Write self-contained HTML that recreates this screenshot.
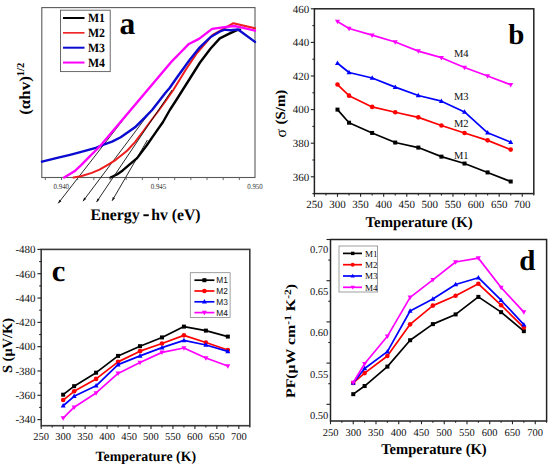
<!DOCTYPE html>
<html><head><meta charset="utf-8"><style>
html,body{margin:0;padding:0;background:#fff;}
body{width:550px;height:467px;overflow:hidden;font-family:"Liberation Serif", serif;}
svg{display:block;text-rendering:geometricPrecision;}
</style></head><body>
<svg width="550" height="467" viewBox="0 0 550 467">
<rect width="550" height="467" fill="#fff"/>
<rect x="41.8" y="7.6" width="213.2" height="169.9" fill="none" stroke="#5a5a5a" stroke-width="1.1"/>
<line x1="138.50" y1="100.00" x2="58.20" y2="203.30" stroke="#111" stroke-width="0.9" />
<polygon points="58.20,203.30 59.38,199.66 61.44,201.26" fill="#111"/>
<line x1="150.00" y1="112.00" x2="83.00" y2="201.20" stroke="#111" stroke-width="0.9" />
<polygon points="83.00,201.20 84.12,197.54 86.20,199.10" fill="#111"/>
<line x1="147.40" y1="140.00" x2="112.10" y2="200.80" stroke="#111" stroke-width="0.9" />
<polygon points="112.10,200.80 112.78,197.03 115.03,198.34" fill="#111"/>
<polyline points="110.50,177.50 116.90,174.50 122.40,170.70 130.00,164.20 137.10,158.10 146.80,145.30 156.40,131.40 163.00,122.00 169.80,110.00 176.00,100.50 182.30,90.50 188.00,81.50 200.00,62.50 210.60,48.50 219.80,38.40 229.30,33.60 237.00,30.10 240.00,29.80" fill="none" stroke="#000000" stroke-width="2.4" stroke-linejoin="round" stroke-linecap="round" />
<polyline points="73.50,177.50 80.90,176.20 91.80,172.90 99.50,169.60 108.20,164.70 115.80,159.80 122.40,154.40 127.30,150.50 135.00,142.10 144.10,130.00 151.50,120.00 159.10,110.00 166.00,100.50 173.30,90.00 185.60,70.00 197.00,53.00 212.70,34.80 223.40,28.90 233.40,23.20 255.00,28.30" fill="none" stroke="#ee1c1c" stroke-width="2.0" stroke-linejoin="round" stroke-linecap="round" />
<polyline points="42.00,161.70 59.30,157.40 70.00,154.80 78.50,152.60 95.90,147.80 103.60,144.60 112.10,141.60 120.70,137.30 129.30,131.30 135.00,127.30 145.00,117.40 152.10,110.00 159.30,100.80 165.50,92.80 169.60,88.00 177.10,77.30 189.60,60.00 199.00,48.20 210.60,37.00 220.00,31.50 224.60,29.60 230.50,30.20 238.10,29.50 255.00,41.90" fill="none" stroke="#0a0ad0" stroke-width="2.4" stroke-linejoin="round" stroke-linecap="round" />
<polyline points="64.10,177.50 70.00,174.00 74.40,171.30 80.90,165.30 87.50,158.70 96.20,150.00 100.00,146.20 171.00,62.20 180.00,53.00 188.40,44.30 199.00,38.90 212.10,28.90 224.60,27.10 234.00,26.00 239.90,27.10 255.00,30.70" fill="none" stroke="#ff00ff" stroke-width="2.4" stroke-linejoin="round" stroke-linecap="round" />
<line x1="172.00" y1="90.00" x2="96.50" y2="202.10" stroke="#111" stroke-width="0.9" />
<polygon points="96.50,202.10 97.43,198.39 99.59,199.84" fill="#111"/>
<line x1="45.33" y1="177.50" x2="45.33" y2="180.10" stroke="#5a5a5a" stroke-width="0.9" />
<line x1="61.50" y1="177.50" x2="61.50" y2="180.10" stroke="#5a5a5a" stroke-width="0.9" />
<line x1="77.67" y1="177.50" x2="77.67" y2="180.10" stroke="#5a5a5a" stroke-width="0.9" />
<line x1="93.84" y1="177.50" x2="93.84" y2="180.10" stroke="#5a5a5a" stroke-width="0.9" />
<line x1="110.01" y1="177.50" x2="110.01" y2="180.10" stroke="#5a5a5a" stroke-width="0.9" />
<line x1="126.18" y1="177.50" x2="126.18" y2="180.10" stroke="#5a5a5a" stroke-width="0.9" />
<line x1="142.35" y1="177.50" x2="142.35" y2="180.10" stroke="#5a5a5a" stroke-width="0.9" />
<line x1="158.52" y1="177.50" x2="158.52" y2="180.10" stroke="#5a5a5a" stroke-width="0.9" />
<line x1="174.69" y1="177.50" x2="174.69" y2="180.10" stroke="#5a5a5a" stroke-width="0.9" />
<line x1="190.86" y1="177.50" x2="190.86" y2="180.10" stroke="#5a5a5a" stroke-width="0.9" />
<line x1="207.03" y1="177.50" x2="207.03" y2="180.10" stroke="#5a5a5a" stroke-width="0.9" />
<line x1="223.20" y1="177.50" x2="223.20" y2="180.10" stroke="#5a5a5a" stroke-width="0.9" />
<line x1="239.37" y1="177.50" x2="239.37" y2="180.10" stroke="#5a5a5a" stroke-width="0.9" />
<text x="61.30" y="188.60" font-family='"Liberation Serif", serif' font-size="7.8" font-weight="normal" text-anchor="middle" fill="#3a3a3a" textLength="15.5" lengthAdjust="spacingAndGlyphs">0.940</text>
<text x="158.50" y="188.60" font-family='"Liberation Serif", serif' font-size="7.8" font-weight="normal" text-anchor="middle" fill="#3a3a3a" textLength="15.5" lengthAdjust="spacingAndGlyphs">0.945</text>
<text x="255.00" y="188.60" font-family='"Liberation Serif", serif' font-size="7.8" font-weight="normal" text-anchor="middle" fill="#3a3a3a" textLength="15.5" lengthAdjust="spacingAndGlyphs">0.950</text>
<rect x="60.5" y="10.2" width="49.7" height="61.4" fill="#fff" stroke="#5a5a5a" stroke-width="0.9"/>
<line x1="63.00" y1="18.00" x2="84.50" y2="18.00" stroke="#000000" stroke-width="2.0" />
<text x="88.00" y="22.10" font-family='"Liberation Serif", serif' font-size="12.6" font-weight="bold" text-anchor="start" fill="#000" textLength="17" lengthAdjust="spacingAndGlyphs">M1</text>
<line x1="63.00" y1="32.85" x2="84.50" y2="32.85" stroke="#ee1c1c" stroke-width="1.6" />
<text x="88.00" y="36.95" font-family='"Liberation Serif", serif' font-size="12.6" font-weight="bold" text-anchor="start" fill="#000" textLength="17" lengthAdjust="spacingAndGlyphs">M2</text>
<line x1="63.00" y1="47.70" x2="84.50" y2="47.70" stroke="#0a0ad0" stroke-width="2.0" />
<text x="88.00" y="51.80" font-family='"Liberation Serif", serif' font-size="12.6" font-weight="bold" text-anchor="start" fill="#000" textLength="17" lengthAdjust="spacingAndGlyphs">M3</text>
<line x1="63.00" y1="62.55" x2="84.50" y2="62.55" stroke="#ff00ff" stroke-width="2.0" />
<text x="88.00" y="66.65" font-family='"Liberation Serif", serif' font-size="12.6" font-weight="bold" text-anchor="start" fill="#000" textLength="17" lengthAdjust="spacingAndGlyphs">M4</text>
<text x="119.40" y="34.00" font-family='"Liberation Serif", serif' font-size="31.5" font-weight="bold" text-anchor="start" fill="#000" >a</text>
<text x="90.40" y="220.40" font-family='"Liberation Serif", serif' font-size="16.2" font-weight="bold" text-anchor="start" fill="#000" textLength="49.2" lengthAdjust="spacingAndGlyphs">Energy</text>
<rect x="143.4" y="214.3" width="5.4" height="1.9" fill="#000"/>
<text x="151.20" y="220.40" font-family='"Liberation Serif", serif' font-size="16.2" font-weight="bold" text-anchor="start" fill="#000" textLength="49.4" lengthAdjust="spacingAndGlyphs">hv (eV)</text>
<text transform="translate(30.0,114.8) rotate(-90)" font-family='"Liberation Serif", serif' font-size="15.6" font-weight="bold"><tspan textLength="38.6" lengthAdjust="spacingAndGlyphs">(αhv)</tspan><tspan font-size="10.5" dy="-5.8" textLength="13.6" lengthAdjust="spacingAndGlyphs">1/2</tspan></text>
<rect x="314.4" y="8.8" width="219.40" height="184.80" fill="none" stroke="#222" stroke-width="1.5"/>
<line x1="314.40" y1="193.60" x2="314.40" y2="196.80" stroke="#222" stroke-width="1.1" />
<text x="314.40" y="208.00" font-family='"Liberation Serif", serif' font-size="11" font-weight="normal" text-anchor="middle" fill="#111" >250</text>
<line x1="325.95" y1="193.60" x2="325.95" y2="195.40" stroke="#222" stroke-width="1.1" />
<line x1="337.49" y1="193.60" x2="337.49" y2="196.80" stroke="#222" stroke-width="1.1" />
<text x="337.49" y="208.00" font-family='"Liberation Serif", serif' font-size="11" font-weight="normal" text-anchor="middle" fill="#111" >300</text>
<line x1="349.04" y1="193.60" x2="349.04" y2="195.40" stroke="#222" stroke-width="1.1" />
<line x1="360.59" y1="193.60" x2="360.59" y2="196.80" stroke="#222" stroke-width="1.1" />
<text x="360.59" y="208.00" font-family='"Liberation Serif", serif' font-size="11" font-weight="normal" text-anchor="middle" fill="#111" >350</text>
<line x1="372.14" y1="193.60" x2="372.14" y2="195.40" stroke="#222" stroke-width="1.1" />
<line x1="383.68" y1="193.60" x2="383.68" y2="196.80" stroke="#222" stroke-width="1.1" />
<text x="383.68" y="208.00" font-family='"Liberation Serif", serif' font-size="11" font-weight="normal" text-anchor="middle" fill="#111" >400</text>
<line x1="395.23" y1="193.60" x2="395.23" y2="195.40" stroke="#222" stroke-width="1.1" />
<line x1="406.78" y1="193.60" x2="406.78" y2="196.80" stroke="#222" stroke-width="1.1" />
<text x="406.78" y="208.00" font-family='"Liberation Serif", serif' font-size="11" font-weight="normal" text-anchor="middle" fill="#111" >450</text>
<line x1="418.33" y1="193.60" x2="418.33" y2="195.40" stroke="#222" stroke-width="1.1" />
<line x1="429.87" y1="193.60" x2="429.87" y2="196.80" stroke="#222" stroke-width="1.1" />
<text x="429.87" y="208.00" font-family='"Liberation Serif", serif' font-size="11" font-weight="normal" text-anchor="middle" fill="#111" >500</text>
<line x1="441.42" y1="193.60" x2="441.42" y2="195.40" stroke="#222" stroke-width="1.1" />
<line x1="452.97" y1="193.60" x2="452.97" y2="196.80" stroke="#222" stroke-width="1.1" />
<text x="452.97" y="208.00" font-family='"Liberation Serif", serif' font-size="11" font-weight="normal" text-anchor="middle" fill="#111" >550</text>
<line x1="464.52" y1="193.60" x2="464.52" y2="195.40" stroke="#222" stroke-width="1.1" />
<line x1="476.06" y1="193.60" x2="476.06" y2="196.80" stroke="#222" stroke-width="1.1" />
<text x="476.06" y="208.00" font-family='"Liberation Serif", serif' font-size="11" font-weight="normal" text-anchor="middle" fill="#111" >600</text>
<line x1="487.61" y1="193.60" x2="487.61" y2="195.40" stroke="#222" stroke-width="1.1" />
<line x1="499.16" y1="193.60" x2="499.16" y2="196.80" stroke="#222" stroke-width="1.1" />
<text x="499.16" y="208.00" font-family='"Liberation Serif", serif' font-size="11" font-weight="normal" text-anchor="middle" fill="#111" >650</text>
<line x1="510.71" y1="193.60" x2="510.71" y2="195.40" stroke="#222" stroke-width="1.1" />
<line x1="522.25" y1="193.60" x2="522.25" y2="196.80" stroke="#222" stroke-width="1.1" />
<text x="522.25" y="208.00" font-family='"Liberation Serif", serif' font-size="11" font-weight="normal" text-anchor="middle" fill="#111" >700</text>
<line x1="533.80" y1="193.60" x2="533.80" y2="195.40" stroke="#222" stroke-width="1.1" />
<line x1="312.40" y1="193.60" x2="314.40" y2="193.60" stroke="#222" stroke-width="1.1" />
<line x1="310.80" y1="176.80" x2="314.40" y2="176.80" stroke="#222" stroke-width="1.1" />
<text x="309.30" y="180.60" font-family='"Liberation Serif", serif' font-size="11" font-weight="normal" text-anchor="end" fill="#111" >360</text>
<line x1="312.40" y1="160.00" x2="314.40" y2="160.00" stroke="#222" stroke-width="1.1" />
<line x1="310.80" y1="143.20" x2="314.40" y2="143.20" stroke="#222" stroke-width="1.1" />
<text x="309.30" y="147.00" font-family='"Liberation Serif", serif' font-size="11" font-weight="normal" text-anchor="end" fill="#111" >380</text>
<line x1="312.40" y1="126.40" x2="314.40" y2="126.40" stroke="#222" stroke-width="1.1" />
<line x1="310.80" y1="109.60" x2="314.40" y2="109.60" stroke="#222" stroke-width="1.1" />
<text x="309.30" y="113.40" font-family='"Liberation Serif", serif' font-size="11" font-weight="normal" text-anchor="end" fill="#111" >400</text>
<line x1="312.40" y1="92.80" x2="314.40" y2="92.80" stroke="#222" stroke-width="1.1" />
<line x1="310.80" y1="76.00" x2="314.40" y2="76.00" stroke="#222" stroke-width="1.1" />
<text x="309.30" y="79.80" font-family='"Liberation Serif", serif' font-size="11" font-weight="normal" text-anchor="end" fill="#111" >420</text>
<line x1="312.40" y1="59.20" x2="314.40" y2="59.20" stroke="#222" stroke-width="1.1" />
<line x1="310.80" y1="42.40" x2="314.40" y2="42.40" stroke="#222" stroke-width="1.1" />
<text x="309.30" y="46.20" font-family='"Liberation Serif", serif' font-size="11" font-weight="normal" text-anchor="end" fill="#111" >440</text>
<line x1="312.40" y1="25.60" x2="314.40" y2="25.60" stroke="#222" stroke-width="1.1" />
<line x1="310.80" y1="8.80" x2="314.40" y2="8.80" stroke="#222" stroke-width="1.1" />
<text x="309.30" y="12.60" font-family='"Liberation Serif", serif' font-size="11" font-weight="normal" text-anchor="end" fill="#111" >460</text>
<polyline points="337.49,109.60 349.04,122.70 372.14,132.95 395.23,142.53 418.33,147.57 441.42,156.64 464.52,163.53 487.61,172.43 510.71,181.50" fill="none" stroke="#000000" stroke-width="1.7" stroke-linejoin="round" stroke-linecap="round" />
<rect x="335.49" y="107.60" width="4.00" height="4.00" fill="#000000"/>
<rect x="347.04" y="120.70" width="4.00" height="4.00" fill="#000000"/>
<rect x="370.14" y="130.95" width="4.00" height="4.00" fill="#000000"/>
<rect x="393.23" y="140.53" width="4.00" height="4.00" fill="#000000"/>
<rect x="416.33" y="145.57" width="4.00" height="4.00" fill="#000000"/>
<rect x="439.42" y="154.64" width="4.00" height="4.00" fill="#000000"/>
<rect x="462.52" y="161.53" width="4.00" height="4.00" fill="#000000"/>
<rect x="485.61" y="170.43" width="4.00" height="4.00" fill="#000000"/>
<rect x="508.71" y="179.50" width="4.00" height="4.00" fill="#000000"/>
<polyline points="337.49,84.57 349.04,95.66 372.14,106.91 395.23,112.29 418.33,117.33 441.42,125.56 464.52,132.95 487.61,140.34 510.71,149.58" fill="none" stroke="#ff0000" stroke-width="1.7" stroke-linejoin="round" stroke-linecap="round" />
<circle cx="337.49" cy="84.57" r="2.30" fill="#ff0000"/>
<circle cx="349.04" cy="95.66" r="2.30" fill="#ff0000"/>
<circle cx="372.14" cy="106.91" r="2.30" fill="#ff0000"/>
<circle cx="395.23" cy="112.29" r="2.30" fill="#ff0000"/>
<circle cx="418.33" cy="117.33" r="2.30" fill="#ff0000"/>
<circle cx="441.42" cy="125.56" r="2.30" fill="#ff0000"/>
<circle cx="464.52" cy="132.95" r="2.30" fill="#ff0000"/>
<circle cx="487.61" cy="140.34" r="2.30" fill="#ff0000"/>
<circle cx="510.71" cy="149.58" r="2.30" fill="#ff0000"/>
<polyline points="337.49,63.23 349.04,72.47 372.14,78.02 395.23,87.09 418.33,95.49 441.42,101.20 464.52,111.95 487.61,132.78 510.71,142.19" fill="none" stroke="#0000ff" stroke-width="1.7" stroke-linejoin="round" stroke-linecap="round" />
<polygon points="337.49,60.53 334.99,65.03 339.99,65.03" fill="#0000ff"/>
<polygon points="349.04,69.77 346.54,74.27 351.54,74.27" fill="#0000ff"/>
<polygon points="372.14,75.32 369.64,79.82 374.64,79.82" fill="#0000ff"/>
<polygon points="395.23,84.39 392.73,88.89 397.73,88.89" fill="#0000ff"/>
<polygon points="418.33,92.79 415.83,97.29 420.83,97.29" fill="#0000ff"/>
<polygon points="441.42,98.50 438.92,103.00 443.92,103.00" fill="#0000ff"/>
<polygon points="464.52,109.25 462.02,113.75 467.02,113.75" fill="#0000ff"/>
<polygon points="487.61,130.08 485.11,134.58 490.11,134.58" fill="#0000ff"/>
<polygon points="510.71,139.49 508.21,143.99 513.21,143.99" fill="#0000ff"/>
<polyline points="337.49,21.57 349.04,28.46 372.14,35.18 395.23,42.06 418.33,51.14 441.42,57.69 464.52,67.43 487.61,76.00 510.71,84.74" fill="none" stroke="#ff00ff" stroke-width="1.7" stroke-linejoin="round" stroke-linecap="round" />
<polygon points="337.49,24.27 334.99,19.77 339.99,19.77" fill="#ff00ff"/>
<polygon points="349.04,31.16 346.54,26.66 351.54,26.66" fill="#ff00ff"/>
<polygon points="372.14,37.88 369.64,33.38 374.64,33.38" fill="#ff00ff"/>
<polygon points="395.23,44.76 392.73,40.26 397.73,40.26" fill="#ff00ff"/>
<polygon points="418.33,53.84 415.83,49.34 420.83,49.34" fill="#ff00ff"/>
<polygon points="441.42,60.39 438.92,55.89 443.92,55.89" fill="#ff00ff"/>
<polygon points="464.52,70.13 462.02,65.63 467.02,65.63" fill="#ff00ff"/>
<polygon points="487.61,78.70 485.11,74.20 490.11,74.20" fill="#ff00ff"/>
<polygon points="510.71,87.44 508.21,82.94 513.21,82.94" fill="#ff00ff"/>
<text x="454.00" y="57.20" font-family='"Liberation Serif", serif' font-size="10.8" font-weight="normal" text-anchor="start" fill="#111" textLength="14.6" lengthAdjust="spacingAndGlyphs">M4</text>
<text x="454.00" y="100.10" font-family='"Liberation Serif", serif' font-size="10.8" font-weight="normal" text-anchor="start" fill="#111" textLength="14.6" lengthAdjust="spacingAndGlyphs">M3</text>
<text x="454.00" y="126.90" font-family='"Liberation Serif", serif' font-size="10.8" font-weight="normal" text-anchor="start" fill="#111" textLength="14.6" lengthAdjust="spacingAndGlyphs">M2</text>
<text x="454.00" y="158.50" font-family='"Liberation Serif", serif' font-size="10.8" font-weight="normal" text-anchor="start" fill="#111" textLength="14.6" lengthAdjust="spacingAndGlyphs">M1</text>
<text x="508.30" y="43.60" font-family='"Liberation Serif", serif' font-size="29" font-weight="bold" text-anchor="start" fill="#000" >b</text>
<text x="365.60" y="227.40" font-family='"Liberation Serif", serif' font-size="14.8" font-weight="bold" text-anchor="start" fill="#000" textLength="107" lengthAdjust="spacingAndGlyphs">Temperature (K)</text>
<text transform="translate(285.6,137.4) rotate(-90)" font-family='"Liberation Serif", serif' font-size="15.6">σ</text>
<text transform="translate(284.6,124.4) rotate(-90)" font-family='"Liberation Serif", serif' font-size="14" font-weight="bold" textLength="34.6" lengthAdjust="spacingAndGlyphs">(S/m)</text>
<rect x="41.2" y="249.4" width="208.60" height="176.30" fill="none" stroke="#3a3a3a" stroke-width="1.6"/>
<line x1="41.20" y1="425.70" x2="41.20" y2="428.90" stroke="#222" stroke-width="1.1" />
<text x="41.20" y="439.60" font-family='"Liberation Serif", serif' font-size="10.5" font-weight="normal" text-anchor="middle" fill="#111" >250</text>
<line x1="52.18" y1="425.70" x2="52.18" y2="427.50" stroke="#222" stroke-width="1.1" />
<line x1="63.16" y1="425.70" x2="63.16" y2="428.90" stroke="#222" stroke-width="1.1" />
<text x="63.16" y="439.60" font-family='"Liberation Serif", serif' font-size="10.5" font-weight="normal" text-anchor="middle" fill="#111" >300</text>
<line x1="74.14" y1="425.70" x2="74.14" y2="427.50" stroke="#222" stroke-width="1.1" />
<line x1="85.12" y1="425.70" x2="85.12" y2="428.90" stroke="#222" stroke-width="1.1" />
<text x="85.12" y="439.60" font-family='"Liberation Serif", serif' font-size="10.5" font-weight="normal" text-anchor="middle" fill="#111" >350</text>
<line x1="96.09" y1="425.70" x2="96.09" y2="427.50" stroke="#222" stroke-width="1.1" />
<line x1="107.07" y1="425.70" x2="107.07" y2="428.90" stroke="#222" stroke-width="1.1" />
<text x="107.07" y="439.60" font-family='"Liberation Serif", serif' font-size="10.5" font-weight="normal" text-anchor="middle" fill="#111" >400</text>
<line x1="118.05" y1="425.70" x2="118.05" y2="427.50" stroke="#222" stroke-width="1.1" />
<line x1="129.03" y1="425.70" x2="129.03" y2="428.90" stroke="#222" stroke-width="1.1" />
<text x="129.03" y="439.60" font-family='"Liberation Serif", serif' font-size="10.5" font-weight="normal" text-anchor="middle" fill="#111" >450</text>
<line x1="140.01" y1="425.70" x2="140.01" y2="427.50" stroke="#222" stroke-width="1.1" />
<line x1="150.99" y1="425.70" x2="150.99" y2="428.90" stroke="#222" stroke-width="1.1" />
<text x="150.99" y="439.60" font-family='"Liberation Serif", serif' font-size="10.5" font-weight="normal" text-anchor="middle" fill="#111" >500</text>
<line x1="161.97" y1="425.70" x2="161.97" y2="427.50" stroke="#222" stroke-width="1.1" />
<line x1="172.95" y1="425.70" x2="172.95" y2="428.90" stroke="#222" stroke-width="1.1" />
<text x="172.95" y="439.60" font-family='"Liberation Serif", serif' font-size="10.5" font-weight="normal" text-anchor="middle" fill="#111" >550</text>
<line x1="183.93" y1="425.70" x2="183.93" y2="427.50" stroke="#222" stroke-width="1.1" />
<line x1="194.91" y1="425.70" x2="194.91" y2="428.90" stroke="#222" stroke-width="1.1" />
<text x="194.91" y="439.60" font-family='"Liberation Serif", serif' font-size="10.5" font-weight="normal" text-anchor="middle" fill="#111" >600</text>
<line x1="205.88" y1="425.70" x2="205.88" y2="427.50" stroke="#222" stroke-width="1.1" />
<line x1="216.86" y1="425.70" x2="216.86" y2="428.90" stroke="#222" stroke-width="1.1" />
<text x="216.86" y="439.60" font-family='"Liberation Serif", serif' font-size="10.5" font-weight="normal" text-anchor="middle" fill="#111" >650</text>
<line x1="227.84" y1="425.70" x2="227.84" y2="427.50" stroke="#222" stroke-width="1.1" />
<line x1="238.82" y1="425.70" x2="238.82" y2="428.90" stroke="#222" stroke-width="1.1" />
<text x="238.82" y="439.60" font-family='"Liberation Serif", serif' font-size="10.5" font-weight="normal" text-anchor="middle" fill="#111" >700</text>
<line x1="249.80" y1="425.70" x2="249.80" y2="427.50" stroke="#222" stroke-width="1.1" />
<line x1="37.40" y1="419.62" x2="41.20" y2="419.62" stroke="#222" stroke-width="1.1" />
<text x="35.60" y="423.42" font-family='"Liberation Serif", serif' font-size="11" font-weight="normal" text-anchor="end" fill="#111" >-340</text>
<line x1="39.20" y1="407.46" x2="41.20" y2="407.46" stroke="#222" stroke-width="1.1" />
<line x1="37.40" y1="395.30" x2="41.20" y2="395.30" stroke="#222" stroke-width="1.1" />
<text x="35.60" y="399.10" font-family='"Liberation Serif", serif' font-size="11" font-weight="normal" text-anchor="end" fill="#111" >-360</text>
<line x1="39.20" y1="383.14" x2="41.20" y2="383.14" stroke="#222" stroke-width="1.1" />
<line x1="37.40" y1="370.99" x2="41.20" y2="370.99" stroke="#222" stroke-width="1.1" />
<text x="35.60" y="374.79" font-family='"Liberation Serif", serif' font-size="11" font-weight="normal" text-anchor="end" fill="#111" >-380</text>
<line x1="39.20" y1="358.83" x2="41.20" y2="358.83" stroke="#222" stroke-width="1.1" />
<line x1="37.40" y1="346.67" x2="41.20" y2="346.67" stroke="#222" stroke-width="1.1" />
<text x="35.60" y="350.47" font-family='"Liberation Serif", serif' font-size="11" font-weight="normal" text-anchor="end" fill="#111" >-400</text>
<line x1="39.20" y1="334.51" x2="41.20" y2="334.51" stroke="#222" stroke-width="1.1" />
<line x1="37.40" y1="322.35" x2="41.20" y2="322.35" stroke="#222" stroke-width="1.1" />
<text x="35.60" y="326.15" font-family='"Liberation Serif", serif' font-size="11" font-weight="normal" text-anchor="end" fill="#111" >-420</text>
<line x1="39.20" y1="310.19" x2="41.20" y2="310.19" stroke="#222" stroke-width="1.1" />
<line x1="37.40" y1="298.03" x2="41.20" y2="298.03" stroke="#222" stroke-width="1.1" />
<text x="35.60" y="301.83" font-family='"Liberation Serif", serif' font-size="11" font-weight="normal" text-anchor="end" fill="#111" >-440</text>
<line x1="39.20" y1="285.88" x2="41.20" y2="285.88" stroke="#222" stroke-width="1.1" />
<line x1="37.40" y1="273.72" x2="41.20" y2="273.72" stroke="#222" stroke-width="1.1" />
<text x="35.60" y="277.52" font-family='"Liberation Serif", serif' font-size="11" font-weight="normal" text-anchor="end" fill="#111" >-460</text>
<line x1="39.20" y1="261.56" x2="41.20" y2="261.56" stroke="#222" stroke-width="1.1" />
<line x1="37.40" y1="249.40" x2="41.20" y2="249.40" stroke="#222" stroke-width="1.1" />
<text x="35.60" y="253.20" font-family='"Liberation Serif", serif' font-size="11" font-weight="normal" text-anchor="end" fill="#111" >-480</text>
<polyline points="63.16,394.70 74.14,386.18 96.09,372.69 118.05,355.91 140.01,346.18 161.97,337.43 183.93,326.61 205.88,330.62 227.84,336.58" fill="none" stroke="#000000" stroke-width="1.7" stroke-linejoin="round" stroke-linecap="round" />
<rect x="61.16" y="392.70" width="4.00" height="4.00" fill="#000000"/>
<rect x="72.14" y="384.18" width="4.00" height="4.00" fill="#000000"/>
<rect x="94.09" y="370.69" width="4.00" height="4.00" fill="#000000"/>
<rect x="116.05" y="353.91" width="4.00" height="4.00" fill="#000000"/>
<rect x="138.01" y="344.18" width="4.00" height="4.00" fill="#000000"/>
<rect x="159.97" y="335.43" width="4.00" height="4.00" fill="#000000"/>
<rect x="181.93" y="324.61" width="4.00" height="4.00" fill="#000000"/>
<rect x="203.88" y="328.62" width="4.00" height="4.00" fill="#000000"/>
<rect x="225.84" y="334.58" width="4.00" height="4.00" fill="#000000"/>
<polyline points="63.16,400.05 74.14,391.29 96.09,378.89 118.05,361.87 140.01,351.17 161.97,343.51 183.93,335.36 205.88,342.54 227.84,349.95" fill="none" stroke="#ff0000" stroke-width="1.7" stroke-linejoin="round" stroke-linecap="round" />
<circle cx="63.16" cy="400.05" r="2.30" fill="#ff0000"/>
<circle cx="74.14" cy="391.29" r="2.30" fill="#ff0000"/>
<circle cx="96.09" cy="378.89" r="2.30" fill="#ff0000"/>
<circle cx="118.05" cy="361.87" r="2.30" fill="#ff0000"/>
<circle cx="140.01" cy="351.17" r="2.30" fill="#ff0000"/>
<circle cx="161.97" cy="343.51" r="2.30" fill="#ff0000"/>
<circle cx="183.93" cy="335.36" r="2.30" fill="#ff0000"/>
<circle cx="205.88" cy="342.54" r="2.30" fill="#ff0000"/>
<circle cx="227.84" cy="349.95" r="2.30" fill="#ff0000"/>
<polyline points="63.16,405.76 74.14,396.28 96.09,385.82 118.05,364.66 140.01,355.91 161.97,347.64 183.93,340.35 205.88,344.97 227.84,351.41" fill="none" stroke="#0000ff" stroke-width="1.7" stroke-linejoin="round" stroke-linecap="round" />
<polygon points="63.16,403.06 60.66,407.56 65.66,407.56" fill="#0000ff"/>
<polygon points="74.14,393.58 71.64,398.08 76.64,398.08" fill="#0000ff"/>
<polygon points="96.09,383.12 93.59,387.62 98.59,387.62" fill="#0000ff"/>
<polygon points="118.05,361.96 115.55,366.46 120.55,366.46" fill="#0000ff"/>
<polygon points="140.01,353.21 137.51,357.71 142.51,357.71" fill="#0000ff"/>
<polygon points="161.97,344.94 159.47,349.44 164.47,349.44" fill="#0000ff"/>
<polygon points="183.93,337.65 181.43,342.15 186.43,342.15" fill="#0000ff"/>
<polygon points="205.88,342.27 203.38,346.77 208.38,346.77" fill="#0000ff"/>
<polygon points="227.84,348.71 225.34,353.21 230.34,353.21" fill="#0000ff"/>
<polyline points="63.16,418.16 74.14,407.22 96.09,392.99 118.05,373.42 140.01,362.48 161.97,352.38 183.93,348.01 205.88,357.98 227.84,366.00" fill="none" stroke="#ff00ff" stroke-width="1.7" stroke-linejoin="round" stroke-linecap="round" />
<polygon points="63.16,420.86 60.66,416.36 65.66,416.36" fill="#ff00ff"/>
<polygon points="74.14,409.92 71.64,405.42 76.64,405.42" fill="#ff00ff"/>
<polygon points="96.09,395.69 93.59,391.19 98.59,391.19" fill="#ff00ff"/>
<polygon points="118.05,376.12 115.55,371.62 120.55,371.62" fill="#ff00ff"/>
<polygon points="140.01,365.18 137.51,360.68 142.51,360.68" fill="#ff00ff"/>
<polygon points="161.97,355.08 159.47,350.58 164.47,350.58" fill="#ff00ff"/>
<polygon points="183.93,350.71 181.43,346.21 186.43,346.21" fill="#ff00ff"/>
<polygon points="205.88,360.68 203.38,356.18 208.38,356.18" fill="#ff00ff"/>
<polygon points="227.84,368.70 225.34,364.20 230.34,364.20" fill="#ff00ff"/>
<rect x="190.3" y="272.7" width="39.8" height="44.7" fill="#fff" stroke="#888" stroke-width="0.8"/>
<line x1="194.40" y1="280.20" x2="214.40" y2="280.20" stroke="#000000" stroke-width="1.7" />
<rect x="202.40" y="278.20" width="4.00" height="4.00" fill="#000000"/>
<text x="216.20" y="283.30" font-family='"Liberation Sans", sans-serif' font-size="8.6" font-weight="normal" text-anchor="start" fill="#111" textLength="11.6" lengthAdjust="spacingAndGlyphs">M1</text>
<line x1="194.40" y1="291.00" x2="214.40" y2="291.00" stroke="#ff0000" stroke-width="1.7" />
<circle cx="204.40" cy="291.00" r="2.30" fill="#ff0000"/>
<text x="216.20" y="294.10" font-family='"Liberation Sans", sans-serif' font-size="8.6" font-weight="normal" text-anchor="start" fill="#111" textLength="11.6" lengthAdjust="spacingAndGlyphs">M2</text>
<line x1="194.40" y1="301.80" x2="214.40" y2="301.80" stroke="#0000ff" stroke-width="1.7" />
<polygon points="204.40,299.10 201.90,303.60 206.90,303.60" fill="#0000ff"/>
<text x="216.20" y="304.90" font-family='"Liberation Sans", sans-serif' font-size="8.6" font-weight="normal" text-anchor="start" fill="#111" textLength="11.6" lengthAdjust="spacingAndGlyphs">M3</text>
<line x1="194.40" y1="312.60" x2="214.40" y2="312.60" stroke="#ff00ff" stroke-width="1.7" />
<polygon points="204.40,315.30 201.90,310.80 206.90,310.80" fill="#ff00ff"/>
<text x="216.20" y="315.70" font-family='"Liberation Sans", sans-serif' font-size="8.6" font-weight="normal" text-anchor="start" fill="#111" textLength="11.6" lengthAdjust="spacingAndGlyphs">M4</text>
<text x="51.80" y="280.60" font-family='"Liberation Serif", serif' font-size="30.5" font-weight="bold" text-anchor="start" fill="#000" >c</text>
<text x="95.60" y="460.80" font-family='"Liberation Serif", serif' font-size="14.3" font-weight="bold" text-anchor="start" fill="#000" textLength="100.5" lengthAdjust="spacingAndGlyphs">Temperature (K)</text>
<text transform="translate(12.0,373.0) rotate(-90) scale(1.03,1)" font-family='"Liberation Serif", serif' font-size="14" font-weight="bold">S (μV/K)</text>
<rect x="330.5" y="239.5" width="216.10" height="181.50" fill="none" stroke="#222" stroke-width="1.5"/>
<line x1="330.50" y1="421.00" x2="330.50" y2="424.20" stroke="#222" stroke-width="1.1" />
<text x="330.50" y="435.60" font-family='"Liberation Serif", serif' font-size="10.5" font-weight="normal" text-anchor="middle" fill="#111" >250</text>
<line x1="341.87" y1="421.00" x2="341.87" y2="422.80" stroke="#222" stroke-width="1.1" />
<line x1="353.25" y1="421.00" x2="353.25" y2="424.20" stroke="#222" stroke-width="1.1" />
<text x="353.25" y="435.60" font-family='"Liberation Serif", serif' font-size="10.5" font-weight="normal" text-anchor="middle" fill="#111" >300</text>
<line x1="364.62" y1="421.00" x2="364.62" y2="422.80" stroke="#222" stroke-width="1.1" />
<line x1="375.99" y1="421.00" x2="375.99" y2="424.20" stroke="#222" stroke-width="1.1" />
<text x="375.99" y="435.60" font-family='"Liberation Serif", serif' font-size="10.5" font-weight="normal" text-anchor="middle" fill="#111" >350</text>
<line x1="387.37" y1="421.00" x2="387.37" y2="422.80" stroke="#222" stroke-width="1.1" />
<line x1="398.74" y1="421.00" x2="398.74" y2="424.20" stroke="#222" stroke-width="1.1" />
<text x="398.74" y="435.60" font-family='"Liberation Serif", serif' font-size="10.5" font-weight="normal" text-anchor="middle" fill="#111" >400</text>
<line x1="410.12" y1="421.00" x2="410.12" y2="422.80" stroke="#222" stroke-width="1.1" />
<line x1="421.49" y1="421.00" x2="421.49" y2="424.20" stroke="#222" stroke-width="1.1" />
<text x="421.49" y="435.60" font-family='"Liberation Serif", serif' font-size="10.5" font-weight="normal" text-anchor="middle" fill="#111" >450</text>
<line x1="432.86" y1="421.00" x2="432.86" y2="422.80" stroke="#222" stroke-width="1.1" />
<line x1="444.24" y1="421.00" x2="444.24" y2="424.20" stroke="#222" stroke-width="1.1" />
<text x="444.24" y="435.60" font-family='"Liberation Serif", serif' font-size="10.5" font-weight="normal" text-anchor="middle" fill="#111" >500</text>
<line x1="455.61" y1="421.00" x2="455.61" y2="422.80" stroke="#222" stroke-width="1.1" />
<line x1="466.98" y1="421.00" x2="466.98" y2="424.20" stroke="#222" stroke-width="1.1" />
<text x="466.98" y="435.60" font-family='"Liberation Serif", serif' font-size="10.5" font-weight="normal" text-anchor="middle" fill="#111" >550</text>
<line x1="478.36" y1="421.00" x2="478.36" y2="422.80" stroke="#222" stroke-width="1.1" />
<line x1="489.73" y1="421.00" x2="489.73" y2="424.20" stroke="#222" stroke-width="1.1" />
<text x="489.73" y="435.60" font-family='"Liberation Serif", serif' font-size="10.5" font-weight="normal" text-anchor="middle" fill="#111" >600</text>
<line x1="501.11" y1="421.00" x2="501.11" y2="422.80" stroke="#222" stroke-width="1.1" />
<line x1="512.48" y1="421.00" x2="512.48" y2="424.20" stroke="#222" stroke-width="1.1" />
<text x="512.48" y="435.60" font-family='"Liberation Serif", serif' font-size="10.5" font-weight="normal" text-anchor="middle" fill="#111" >650</text>
<line x1="523.85" y1="421.00" x2="523.85" y2="422.80" stroke="#222" stroke-width="1.1" />
<line x1="535.23" y1="421.00" x2="535.23" y2="424.20" stroke="#222" stroke-width="1.1" />
<text x="535.23" y="435.60" font-family='"Liberation Serif", serif' font-size="10.5" font-weight="normal" text-anchor="middle" fill="#111" >700</text>
<line x1="546.60" y1="421.00" x2="546.60" y2="422.80" stroke="#222" stroke-width="1.1" />
<line x1="326.50" y1="239.50" x2="330.50" y2="239.50" stroke="#222" stroke-width="1.1" />
<line x1="328.30" y1="260.10" x2="330.50" y2="260.10" stroke="#222" stroke-width="1.1" />
<line x1="326.50" y1="280.70" x2="330.50" y2="280.70" stroke="#222" stroke-width="1.1" />
<line x1="328.30" y1="301.30" x2="330.50" y2="301.30" stroke="#222" stroke-width="1.1" />
<line x1="326.50" y1="321.90" x2="330.50" y2="321.90" stroke="#222" stroke-width="1.1" />
<line x1="328.30" y1="342.50" x2="330.50" y2="342.50" stroke="#222" stroke-width="1.1" />
<line x1="326.50" y1="363.10" x2="330.50" y2="363.10" stroke="#222" stroke-width="1.1" />
<line x1="328.30" y1="383.70" x2="330.50" y2="383.70" stroke="#222" stroke-width="1.1" />
<line x1="326.50" y1="404.30" x2="330.50" y2="404.30" stroke="#222" stroke-width="1.1" />
<text x="328.30" y="253.00" font-family='"Liberation Serif", serif' font-size="10.5" font-weight="normal" text-anchor="end" fill="#111" >0.70</text>
<text x="328.30" y="294.50" font-family='"Liberation Serif", serif' font-size="10.5" font-weight="normal" text-anchor="end" fill="#111" >0.65</text>
<text x="328.30" y="336.00" font-family='"Liberation Serif", serif' font-size="10.5" font-weight="normal" text-anchor="end" fill="#111" >0.60</text>
<text x="328.30" y="377.50" font-family='"Liberation Serif", serif' font-size="10.5" font-weight="normal" text-anchor="end" fill="#111" >0.55</text>
<text x="328.30" y="419.00" font-family='"Liberation Serif", serif' font-size="10.5" font-weight="normal" text-anchor="end" fill="#111" >0.50</text>
<polyline points="353.25,394.17 364.62,386.04 387.37,366.61 410.12,340.22 432.86,324.12 455.61,314.41 478.36,296.89 501.11,312.16 523.85,331.17" fill="none" stroke="#000000" stroke-width="1.7" stroke-linejoin="round" stroke-linecap="round" />
<rect x="351.25" y="392.17" width="4.00" height="4.00" fill="#000000"/>
<rect x="362.62" y="384.04" width="4.00" height="4.00" fill="#000000"/>
<rect x="385.37" y="364.61" width="4.00" height="4.00" fill="#000000"/>
<rect x="408.12" y="338.22" width="4.00" height="4.00" fill="#000000"/>
<rect x="430.86" y="322.12" width="4.00" height="4.00" fill="#000000"/>
<rect x="453.61" y="312.41" width="4.00" height="4.00" fill="#000000"/>
<rect x="476.36" y="294.89" width="4.00" height="4.00" fill="#000000"/>
<rect x="499.11" y="310.16" width="4.00" height="4.00" fill="#000000"/>
<rect x="521.85" y="329.17" width="4.00" height="4.00" fill="#000000"/>
<polyline points="353.25,382.96 364.62,373.09 387.37,355.99 410.12,324.37 432.86,305.61 455.61,295.81 478.36,283.78 501.11,305.19 523.85,327.52" fill="none" stroke="#ff0000" stroke-width="1.7" stroke-linejoin="round" stroke-linecap="round" />
<circle cx="353.25" cy="382.96" r="2.30" fill="#ff0000"/>
<circle cx="364.62" cy="373.09" r="2.30" fill="#ff0000"/>
<circle cx="387.37" cy="355.99" r="2.30" fill="#ff0000"/>
<circle cx="410.12" cy="324.37" r="2.30" fill="#ff0000"/>
<circle cx="432.86" cy="305.61" r="2.30" fill="#ff0000"/>
<circle cx="455.61" cy="295.81" r="2.30" fill="#ff0000"/>
<circle cx="478.36" cy="283.78" r="2.30" fill="#ff0000"/>
<circle cx="501.11" cy="305.19" r="2.30" fill="#ff0000"/>
<circle cx="523.85" cy="327.52" r="2.30" fill="#ff0000"/>
<polyline points="353.25,382.96 364.62,368.52 387.37,351.67 410.12,311.00 432.86,299.05 455.61,284.53 478.36,277.72 501.11,300.21 523.85,324.61" fill="none" stroke="#0000ff" stroke-width="1.7" stroke-linejoin="round" stroke-linecap="round" />
<polygon points="353.25,380.26 350.75,384.76 355.75,384.76" fill="#0000ff"/>
<polygon points="364.62,365.82 362.12,370.32 367.12,370.32" fill="#0000ff"/>
<polygon points="387.37,348.97 384.87,353.47 389.87,353.47" fill="#0000ff"/>
<polygon points="410.12,308.30 407.62,312.80 412.62,312.80" fill="#0000ff"/>
<polygon points="432.86,296.35 430.36,300.85 435.36,300.85" fill="#0000ff"/>
<polygon points="455.61,281.83 453.11,286.33 458.11,286.33" fill="#0000ff"/>
<polygon points="478.36,275.02 475.86,279.52 480.86,279.52" fill="#0000ff"/>
<polygon points="501.11,297.51 498.61,302.01 503.61,302.01" fill="#0000ff"/>
<polygon points="523.85,321.91 521.35,326.41 526.35,326.41" fill="#0000ff"/>
<polyline points="353.25,382.47 364.62,363.71 387.37,336.32 410.12,297.39 432.86,279.88 455.61,262.03 478.36,258.13 501.11,287.51 523.85,312.16" fill="none" stroke="#ff00ff" stroke-width="1.7" stroke-linejoin="round" stroke-linecap="round" />
<polygon points="353.25,385.17 350.75,380.67 355.75,380.67" fill="#ff00ff"/>
<polygon points="364.62,366.41 362.12,361.91 367.12,361.91" fill="#ff00ff"/>
<polygon points="387.37,339.02 384.87,334.52 389.87,334.52" fill="#ff00ff"/>
<polygon points="410.12,300.09 407.62,295.59 412.62,295.59" fill="#ff00ff"/>
<polygon points="432.86,282.58 430.36,278.08 435.36,278.08" fill="#ff00ff"/>
<polygon points="455.61,264.73 453.11,260.23 458.11,260.23" fill="#ff00ff"/>
<polygon points="478.36,260.83 475.86,256.33 480.86,256.33" fill="#ff00ff"/>
<polygon points="501.11,290.21 498.61,285.71 503.61,285.71" fill="#ff00ff"/>
<polygon points="523.85,314.86 521.35,310.36 526.35,310.36" fill="#ff00ff"/>
<rect x="339" y="246" width="38.6" height="46" fill="#fff" stroke="#888" stroke-width="0.8"/>
<line x1="343.00" y1="253.40" x2="362.00" y2="253.40" stroke="#000000" stroke-width="1.7" />
<rect x="351.00" y="251.70" width="3.40" height="3.40" fill="#000000"/>
<text x="365.00" y="256.60" font-family='"Liberation Serif", serif' font-size="9" font-weight="normal" text-anchor="start" fill="#111" >M1</text>
<line x1="343.00" y1="264.70" x2="362.00" y2="264.70" stroke="#ff0000" stroke-width="1.7" />
<circle cx="352.70" cy="264.70" r="1.95" fill="#ff0000"/>
<text x="365.00" y="267.90" font-family='"Liberation Serif", serif' font-size="9" font-weight="normal" text-anchor="start" fill="#111" >M2</text>
<line x1="343.00" y1="276.00" x2="362.00" y2="276.00" stroke="#0000ff" stroke-width="1.7" />
<polygon points="352.70,273.70 350.57,277.53 354.82,277.53" fill="#0000ff"/>
<text x="365.00" y="279.20" font-family='"Liberation Serif", serif' font-size="9" font-weight="normal" text-anchor="start" fill="#111" >M3</text>
<line x1="343.00" y1="287.30" x2="362.00" y2="287.30" stroke="#ff00ff" stroke-width="1.7" />
<polygon points="352.70,289.60 350.57,285.77 354.82,285.77" fill="#ff00ff"/>
<text x="365.00" y="290.50" font-family='"Liberation Serif", serif' font-size="9" font-weight="normal" text-anchor="start" fill="#111" >M4</text>
<text x="519.30" y="269.60" font-family='"Liberation Serif", serif' font-size="29" font-weight="bold" text-anchor="start" fill="#000" >d</text>
<text x="381.20" y="453.60" font-family='"Liberation Serif", serif' font-size="15" font-weight="bold" text-anchor="start" fill="#000" textLength="105.5" lengthAdjust="spacingAndGlyphs">Temperature (K)</text>
<text transform="translate(295.0,398.0) rotate(-90) scale(1.2,1)" font-family='"Liberation Serif", serif' font-size="13.2" font-weight="bold">PF(μW cm<tspan font-size="9.6" dy="-4.2">-1</tspan><tspan dy="4.2"> K</tspan><tspan font-size="9.6" dy="-4.2">-2</tspan><tspan dy="4.2">)</tspan></text>
</svg>
</body></html>
